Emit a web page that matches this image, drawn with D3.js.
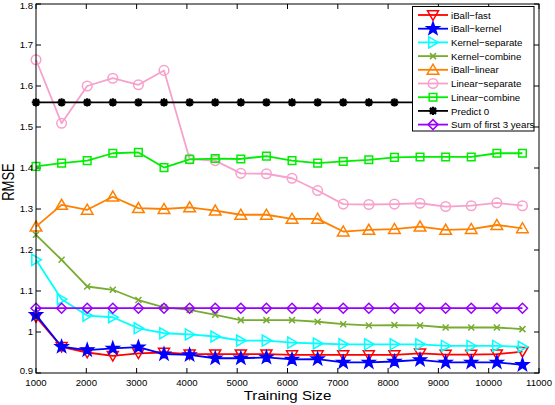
<!DOCTYPE html>
<html><head><meta charset="utf-8">
<script src="https://cdn.jsdelivr.net/npm/d3@7"></script>
<style>body{margin:0;background:#fff}svg{display:block}text{font-family:"Liberation Sans",Arial,Helvetica,sans-serif}</style>
</head><body>
<svg id="c" width="555" height="405"></svg>
<script>
const trainingSize = [1000,1509,2018,2527,3036,3545,4054,4563,5072,5581,6090,6599,7108,7617,8126,8635,9144,9653,10162,10671];
const iBallFast    = [1.037,0.964,0.950,0.942,0.948,0.950,0.946,0.946,0.946,0.946,0.944,0.944,0.944,0.944,0.944,0.948,0.945,0.945,0.946,0.952];
const iBallKernel  = [1.042,0.964,0.956,0.960,0.963,0.946,0.944,0.936,0.936,0.938,0.933,0.934,0.926,0.926,0.928,0.932,0.926,0.926,0.926,0.920];
const kernelSep    = [1.176,1.080,1.040,1.036,1.009,0.997,0.994,0.989,0.979,0.979,0.974,0.972,0.970,0.970,0.970,0.970,0.966,0.966,0.966,0.964];
const kernelComb   = [1.237,1.176,1.111,1.103,1.078,1.060,1.054,1.042,1.029,1.029,1.029,1.025,1.019,1.016,1.017,1.016,1.011,1.011,1.011,1.007];
const iBallLinear  = [1.257,1.310,1.298,1.330,1.302,1.300,1.304,1.296,1.286,1.286,1.276,1.276,1.245,1.249,1.251,1.257,1.249,1.251,1.261,1.253];
const linearSep    = [1.664,1.509,1.600,1.619,1.603,1.638,1.422,1.418,1.387,1.386,1.375,1.345,1.312,1.311,1.312,1.314,1.306,1.308,1.315,1.308];
const linearComb   = [1.404,1.412,1.418,1.436,1.438,1.401,1.421,1.423,1.422,1.429,1.418,1.412,1.416,1.420,1.426,1.427,1.427,1.427,1.436,1.436];
const predict0     = [1.56,1.56,1.56,1.56,1.56,1.56,1.56,1.56,1.56,1.56,1.56,1.56,1.56,1.56,1.56,1.56,1.56,1.56,1.56,1.56];
const sumFirst3    = [1.058,1.058,1.058,1.058,1.058,1.058,1.058,1.058,1.058,1.058,1.058,1.058,1.058,1.058,1.058,1.058,1.058,1.058,1.058,1.058];

const seriesNames  = ["iBall\u2212fast","iBall\u2212kernel","Kernel\u2212separate","Kernel\u2212combine","iBall\u2212linear","Linear\u2212separate","Linear\u2212combine","Predict 0","Sum of first 3 years"];
const seriesValues = [iBallFast,iBallKernel,kernelSep,kernelComb,iBallLinear,linearSep,linearComb,predict0,sumFirst3];
const seriesColors = ["#ff0000","#0000ff","#00ffff","#77ac30","#ff8000","#f7a1cc","#00ee00","#000000","#9900ff"];
const seriesMarkers= ["v","p","tr","x","^","o","s","*","d"];
const xTicks = [1000,2000,3000,4000,5000,6000,7000,8000,9000,10000,11000];
const yTicks = [0.9,1,1.1,1.2,1.3,1.4,1.5,1.6,1.7,1.8];

const svg = d3.select("#c");
const L=36,R=539,T=4,B=373;
const x = d3.scaleLinear().domain([1000,11000]).range([L,R]);
const y = d3.scaleLinear().domain([0.9,1.8]).range([B,T]);

function star(ro,ri){let p=[];for(let i=0;i<10;i++){const r=i%2?ri:ro;const a=-Math.PI/2+i*Math.PI/5;p.push([r*Math.cos(a),r*Math.sin(a)]);}return "M"+p.map(d=>d.join(",")).join("L")+"Z";}
const markerPath = {
  "v":"M-5.5,-4.2L5.5,-4.2L0,5.3Z",
  "^":"M-5.8,4.4L5.8,4.4L0,-5.6Z",
  "tr":"M-4.2,-5.5L-4.2,5.5L5.3,0Z",
  "x":"M-3,-3L3,3M-3,3L3,-3",
  "o":"M4.8,0A4.8,4.8 0 1,1 -4.8,0A4.8,4.8 0 1,1 4.8,0Z",
  "s":"M-3.8,-3.8L3.8,-3.8L3.8,3.8L-3.8,3.8Z",
  "*":"M-4.2,0L4.2,0M0,-4.2L0,4.2M-3,-3L3,3M-3,3L3,-3",
  "d":"M0,-5L5,0L0,5L-5,0Z",
  "p":star(6.5,2.6)
};
function markerFill(m,c){return m==="p"?c:"none";}
function markerStroke(m){return m==="*"?2.2:1.5;}

svg.append("rect").attr("x",L).attr("y",T).attr("width",R-L).attr("height",B-T).attr("fill","#fff");

// ticks (inward, all four sides)
const g = svg.append("g").attr("stroke","#000").attr("stroke-width",1);
xTicks.forEach(t=>{
  g.append("line").attr("x1",x(t)).attr("x2",x(t)).attr("y1",B).attr("y2",B-5);
  g.append("line").attr("x1",x(t)).attr("x2",x(t)).attr("y1",T).attr("y2",T+5);
});
yTicks.forEach(t=>{
  g.append("line").attr("x1",L).attr("x2",L+5).attr("y1",y(t)).attr("y2",y(t));
  g.append("line").attr("x1",R).attr("x2",R-5).attr("y1",y(t)).attr("y2",y(t));
});

// series
const line = d3.line().x((d,i)=>x(trainingSize[i])).y(d=>y(d));
seriesValues.forEach((vals,k)=>{
  const c=seriesColors[k], m=seriesMarkers[k];
  const sg = svg.append("g");
  sg.append("path").attr("d",line(vals)).attr("fill","none").attr("stroke",c).attr("stroke-width",1.8).attr("stroke-linejoin","round");
  sg.selectAll("path.m").data(vals).enter().append("path").attr("class","m")
    .attr("d",markerPath[m]).attr("transform",(d,i)=>`translate(${x(trainingSize[i])},${y(d)})`)
    .attr("fill",markerFill(m,c)).attr("stroke",c).attr("stroke-width",markerStroke(m));
});

// box
svg.append("rect").attr("x",L).attr("y",T).attr("width",R-L).attr("height",B-T).attr("fill","none").attr("stroke","#000").attr("stroke-width",1);

// tick labels
xTicks.forEach(t=>{
  svg.append("text").attr("x",x(t)).attr("y",385.5).attr("text-anchor","middle").attr("font-size",9.6).attr("fill","#000").text(d3.format("d")(t));
});
yTicks.forEach(t=>{
  let yy = y(t)+3.4;
  if (t===0.9) yy = 373.5;
  if (t===1.8) yy = 8.6;
  svg.append("text").attr("x",33).attr("y",yy).attr("text-anchor","end").attr("font-size",9.6).attr("fill","#000").text(t===1?"1":d3.format(".1f")(t));
});

// axis titles
svg.append("text").attr("transform",`translate(${(L+R)/2},399.5) scale(1.2,1)`).attr("text-anchor","middle").attr("font-size",12.6).attr("fill","#000").text("Training Size");
svg.append("text").attr("transform",`translate(14,182) scale(1.22,1) rotate(-90)`).attr("text-anchor","middle").attr("font-size",13).attr("fill","#000").text("RMSE");

// legend
const lg = svg.append("g");
lg.append("rect").attr("x",412.5).attr("y",6.5).attr("width",121.5).attr("height",124.5).attr("fill","#fff").attr("stroke","#000").attr("stroke-width",1);
seriesNames.forEach((name,k)=>{
  const ly = 15 + k*13.7;
  const c=seriesColors[k], m=seriesMarkers[k];
  lg.append("line").attr("x1",418).attr("x2",448).attr("y1",ly).attr("y2",ly).attr("stroke",c).attr("stroke-width",1.8);
  lg.append("path").attr("d",markerPath[m]).attr("transform",`translate(433,${ly})`).attr("fill",markerFill(m,c)).attr("stroke",c).attr("stroke-width",markerStroke(m));
  lg.append("text").attr("x",451).attr("y",ly+3.6).attr("font-size",9.7).attr("fill","#000").text(name);
});
</script>
</body></html>
